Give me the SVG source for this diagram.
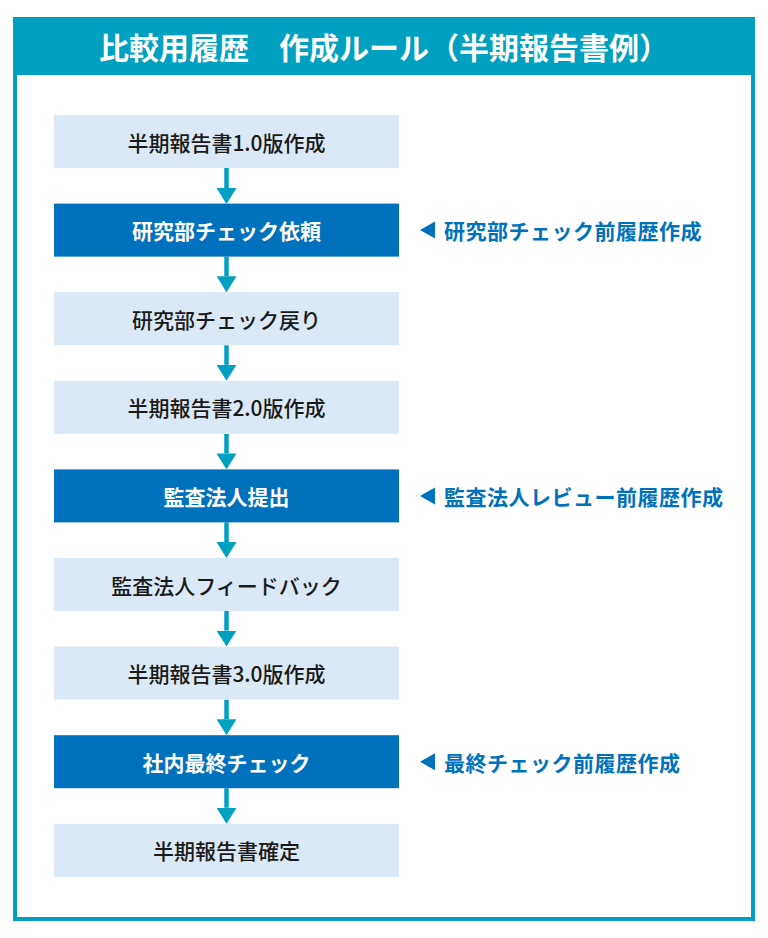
<svg xmlns="http://www.w3.org/2000/svg" width="768" height="938" viewBox="0 0 768 938">
<defs>
<style>
.frame{fill:#ffffff;stroke:#00A0C0;stroke-width:4}
.hdr{fill:#00A0C0}
.title{font-family:"Noto Sans CJK JP","Noto Sans",sans-serif;font-size:30px;font-weight:700;fill:#ffffff}
.lt{fill:#DAE9F5}
.dk{fill:#0071BC}
.tl{font-family:"Noto Sans CJK JP","Noto Sans",sans-serif;font-size:21px;font-weight:500;fill:#1a1a1a}
.td{font-family:"Noto Sans CJK JP","Noto Sans",sans-serif;font-size:21px;font-weight:700;fill:#ffffff}
.note{font-family:"Noto Sans CJK JP","Noto Sans",sans-serif;font-size:21px;font-weight:700;fill:#0071BC;letter-spacing:0.5px}
.tri{fill:#0071BC}
.conn line{stroke:#00A0C0;stroke-width:4.5}
</style>
<marker id="ah" viewBox="0 0 16 20" refX="0" refY="10" markerWidth="16" markerHeight="20" markerUnits="userSpaceOnUse" orient="auto">
<path d="M0,0 L16,10 L0,20 z" fill="#00A0C0"/>
</marker>
</defs>
<rect width="768" height="938" fill="#ffffff"/>
<g id="frame">
<rect class="frame" x="15" y="19" width="738" height="900"/>
<rect class="hdr" x="13" y="17" width="742" height="58"/>
<text class="title" x="384" y="46" text-anchor="middle" dominant-baseline="central">比較用履歴　作成ルール（半期報告書例）</text>
</g>
<g id="connectors" class="conn">
<line x1="226.5" y1="168" x2="226.5" y2="188" marker-end="url(#ah)"/>
<line x1="226.5" y1="256.6" x2="226.5" y2="276.2" marker-end="url(#ah)"/>
<line x1="226.5" y1="345.2" x2="226.5" y2="364.8" marker-end="url(#ah)"/>
<line x1="226.5" y1="433.8" x2="226.5" y2="453.4" marker-end="url(#ah)"/>
<line x1="226.5" y1="522.4" x2="226.5" y2="542" marker-end="url(#ah)"/>
<line x1="226.5" y1="611" x2="226.5" y2="630.6" marker-end="url(#ah)"/>
<line x1="226.5" y1="699.6" x2="226.5" y2="719.2" marker-end="url(#ah)"/>
<line x1="226.5" y1="788.2" x2="226.5" y2="807.8" marker-end="url(#ah)"/>
</g>
<g id="n1"><rect class="lt" x="54" y="115" width="345" height="53"/><text class="tl" x="226.5" y="141.5" text-anchor="middle" dominant-baseline="central">半期報告書1.0版作成</text></g>
<g id="n2"><rect class="dk" x="54" y="203.6" width="345" height="53"/><text class="td" x="226.5" y="230.1" text-anchor="middle" dominant-baseline="central">研究部チェック依頼</text></g>
<g id="n3"><rect class="lt" x="54" y="292.2" width="345" height="53"/><text class="tl" x="226.5" y="318.7" text-anchor="middle" dominant-baseline="central">研究部チェック戻り</text></g>
<g id="n4"><rect class="lt" x="54" y="380.8" width="345" height="53"/><text class="tl" x="226.5" y="407.3" text-anchor="middle" dominant-baseline="central">半期報告書2.0版作成</text></g>
<g id="n5"><rect class="dk" x="54" y="469.4" width="345" height="53"/><text class="td" x="226.5" y="495.9" text-anchor="middle" dominant-baseline="central">監査法人提出</text></g>
<g id="n6"><rect class="lt" x="54" y="558" width="345" height="53"/><text class="tl" x="226.5" y="584.5" text-anchor="middle" dominant-baseline="central">監査法人フィードバック</text></g>
<g id="n7"><rect class="lt" x="54" y="646.6" width="345" height="53"/><text class="tl" x="226.5" y="673.1" text-anchor="middle" dominant-baseline="central">半期報告書3.0版作成</text></g>
<g id="n8"><rect class="dk" x="54" y="735.2" width="345" height="53"/><text class="td" x="226.5" y="761.7" text-anchor="middle" dominant-baseline="central">社内最終チェック</text></g>
<g id="n9"><rect class="lt" x="54" y="823.8" width="345" height="53"/><text class="tl" x="226.5" y="850.3" text-anchor="middle" dominant-baseline="central">半期報告書確定</text></g>
<g id="note1"><polygon class="tri" points="420,230.1 435,221.6 435,238.6"/><text class="note" x="444" y="230.1" dominant-baseline="central">研究部チェック前履歴作成</text></g>
<g id="note2"><polygon class="tri" points="420,495.9 435,487.4 435,504.4"/><text class="note" x="444" y="495.9" dominant-baseline="central">監査法人レビュー前履歴作成</text></g>
<g id="note3"><polygon class="tri" points="420,761.7 435,753.2 435,770.2"/><text class="note" x="444" y="761.7" dominant-baseline="central">最終チェック前履歴作成</text></g>
</svg>
